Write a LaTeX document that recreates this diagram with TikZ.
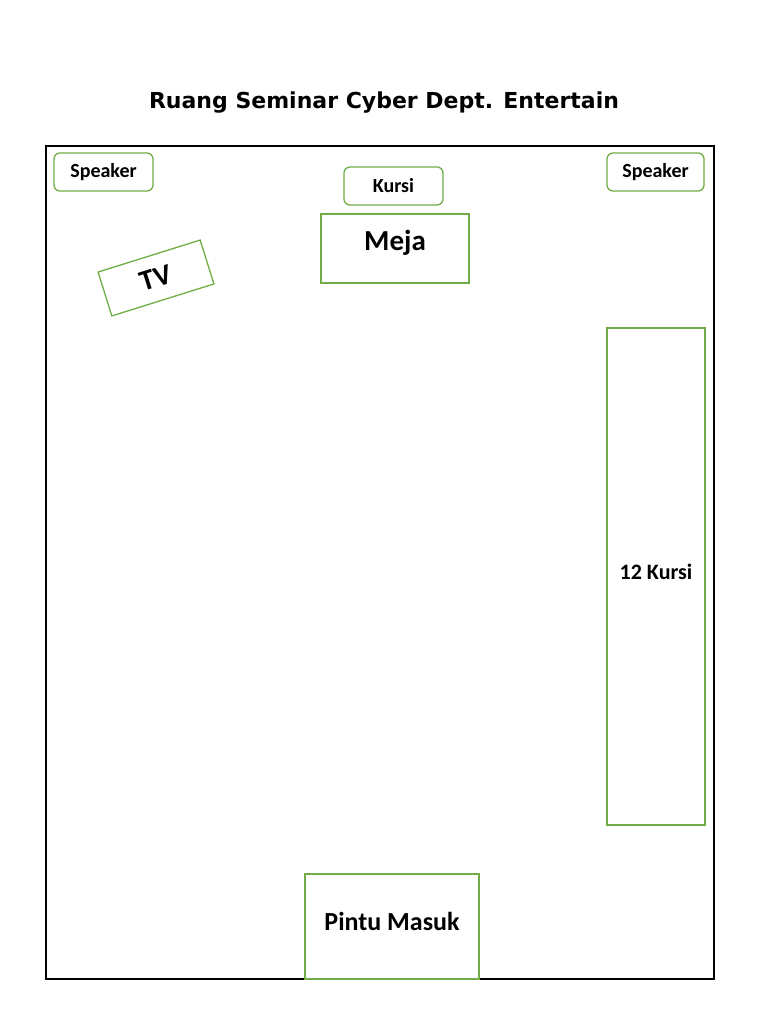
\documentclass[tikz,border=0pt]{standalone}
\usepackage{fontspec}
\setmainfont{Carlito}
\newfontfamily\titlefont{DejaVu Sans}
\definecolor{grn}{HTML}{70AD47}
\begin{document}
\begin{tikzpicture}[x=1pt,y=-1pt,
  box/.style={draw=grn,line width=1.3pt,inner sep=0pt,font=\bfseries},
  rbox/.style={box,rounded corners=6pt}]
\useasboundingbox (0,0) rectangle (768,1024);
\node[font=\titlefont\bfseries\fontsize{22}{26}\selectfont] (title) at (384,103) {Ruang Seminar Cyber Dept. Entertain};
\draw[line width=1.2pt] (46,146) rectangle (714,979);
\node[rbox,minimum width=99pt,minimum height=38pt,font=\bfseries\fontsize{20}{24}\selectfont] (spl) at (103.5,172) {Speaker};
\node[rbox,minimum width=97pt,minimum height=38pt,font=\bfseries\fontsize{20}{24}\selectfont] (spr) at (655.5,172) {Speaker};
\node[rbox,minimum width=99pt,minimum height=38pt,font=\bfseries\fontsize{20}{24}\selectfont] (kursi) at (393.5,186) {Kursi};
\draw[grn,line width=1.3pt] (321,214) rectangle (469,283);
\node[font=\bfseries\fontsize{29}{34}\selectfont] (meja) at (395,243) {Meja};
\node[box,minimum width=107pt,minimum height=46pt,rotate=17.4,font=\bfseries\fontsize{29}{34}\selectfont] (tv) at (156,278) {TV};
\node[box,minimum width=98pt,minimum height=497pt] (k12) at (656,576.5) {};
\node[font=\bfseries\fontsize{22}{26}\selectfont] (k12t) at (656,572) {12 Kursi};
\node[box,minimum width=174pt,minimum height=105pt] (pintu) at (392,926.5) {};
\node[font=\bfseries\fontsize{26}{30}\selectfont] (pintut) at (392,921) {Pintu Masuk};
\end{tikzpicture}
\end{document}
